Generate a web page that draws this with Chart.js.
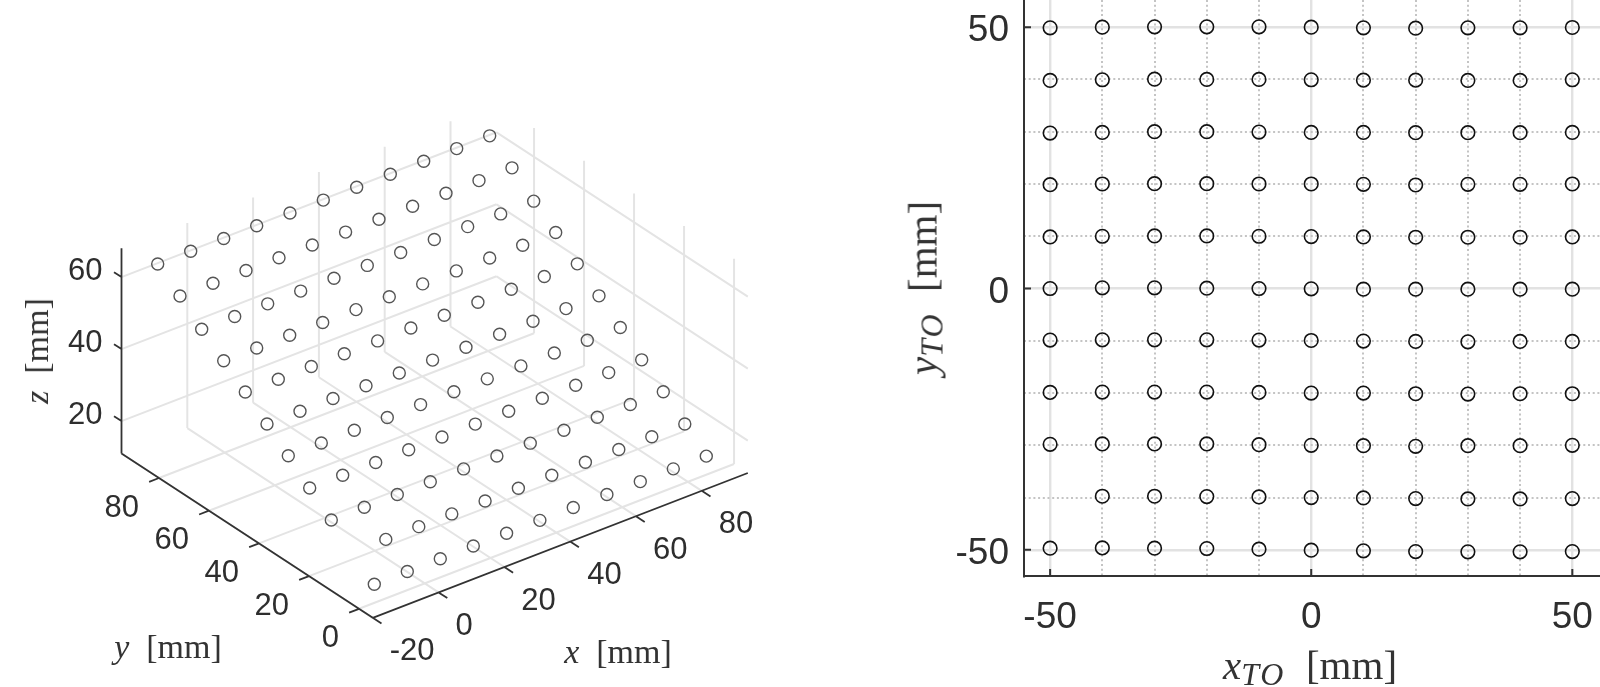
<!DOCTYPE html>
<html>
<head>
<meta charset="utf-8">
<title>Target points</title>
<script src="https://cdn.jsdelivr.net/npm/chart.js@4"></script>
<style>
  html, body { margin: 0; padding: 0; background: #fff; overflow: hidden; }
  #page { position: relative; width: 1600px; height: 687px; }
  canvas { position: absolute; top: 0; }
  #left3d { left: 0; }
  #rightTO { left: 900px; }
  .axisLabel {
    position: absolute; white-space: pre; color: #333; line-height: 1;
    font-family: "Liberation Serif", serif; transform: translate(-50%, -50%);
  }
  .axisLabel sub { font-size: 78%; line-height: 0; font-style: italic; letter-spacing: 2px; position: relative; top: -3px; }
  .small { font-size: 34px; }
  .large { font-size: 41px; }
  .rotated { transform: translate(-50%, -50%) rotate(-90deg); }
</style>
</head>
<body>
<div id="page">
  <canvas id="left3d" width="900" height="687"></canvas>
  <canvas id="rightTO" width="700" height="687"></canvas>
  <div class="axisLabel small rotated" style="left:37px;top:351px"><i>z</i>  [mm]</div>
  <div class="axisLabel small" style="left:168px;top:647px"><i>y</i>  [mm]</div>
  <div class="axisLabel small" style="left:618px;top:652px"><i>x</i>  [mm]</div>
  <div class="axisLabel large" style="left:1310px;top:665px"><i>x</i><sub>TO</sub>  [mm]</div>
  <div class="axisLabel large rotated" style="left:923px;top:288px"><i>y</i><sub>TO</sub>  [mm]</div>
</div>
<script>
// left plot, measured position of the points
const columnX = [-15.35, -5.32, 4.71, 14.74, 24.86, 34.98, 45.13, 55.35, 65.5, 75.53, 85.56];
const rowY = [86.64, 77.72, 69.04, 60.24, 51.6, 42.92, 34.4, 25.84, 17.2, 8.6, 0];
const rowZ = [65.79, 60.95, 55.64, 50.92, 46.15, 41.2, 36.27, 31.18, 26.22, 21.2, 16.17];
const missingColumn = 0;
const missingRow = 9;

const xTicks3d = [-20, 0, 20, 40, 60, 80];
const yTicks3d = [0, 20, 40, 60, 80];
const zTicks3d = [20, 40, 60];
const xLimits3d = [-20, 94];
const yLimits3d = [-5.5, 95];
const zLimits3d = [11, 68];

// right plot, one array of y values per row
const xToColumns = [-50, -40, -30, -20, -10, 0, 10, 20, 30, 40, 50];
const yToRow50 = [49.87, 50, 50.06, 50.06, 50.06, 50, 49.87, 49.81, 49.87, 49.87, 49.94];
const yToRow40 = [39.81, 39.94, 40.06, 40, 40, 39.94, 39.87, 39.87, 39.81, 39.81, 39.94];
const yToRow30 = [29.74, 29.87, 30, 30, 29.94, 29.87, 29.87, 29.81, 29.81, 29.81, 29.87];
const yToRow20 = [19.87, 20, 20.06, 20.06, 20, 20, 19.94, 19.81, 19.94, 19.94, 20];
const yToRow10 = [9.87, 10, 10.06, 10.06, 10, 9.94, 9.87, 9.81, 9.81, 9.81, 9.87];
const yToRow0 = [0, 0.13, 0.13, 0.06, 0, -0.06, -0.13, -0.13, -0.13, -0.13, -0.13];
const yToRowM10 = [-9.87, -9.81, -9.81, -9.81, -9.87, -9.94, -10.06, -10.13, -10.19, -10.13, -10.13];
const yToRowM20 = [-19.87, -19.81, -19.81, -19.81, -19.87, -20, -20, -20.13, -20.19, -20.13, -20.13];
const yToRowM30 = [-29.81, -29.74, -29.74, -29.74, -29.87, -30, -30.06, -30.19, -30.06, -30.06, -30];
const yToRowM40 = [null, -39.74, -39.74, -39.81, -39.87, -40, -40.06, -40.19, -40.26, -40.26, -40.19];
const yToRowM50 = [-49.68, -49.62, -49.68, -49.74, -49.87, -50.06, -50.19, -50.32, -50.38, -50.38, -50.32];
const yToRows = [yToRow50, yToRow40, yToRow30, yToRow20, yToRow10, yToRow0, yToRowM10, yToRowM20, yToRowM30, yToRowM40, yToRowM50];

const toMajorTicks = [-50, 0, 50];
const toMinorTicks = [-40, -30, -20, -10, 10, 20, 30, 40];
const xToLimits = [-55, 55.3];
const yToLimits = [-55, 55.2];

const axisColor = '#333';
const textColor = '#2e2e2e';

// same view as the matlab axes: data (x,y,z) to flat position
const project = (x, y, z) => ({
    x: 424.8 + 3.29 * x - 2.5 * y,
    y: 583.4 - 1.27 * x - 1.635 * y - 3.6 * (z - zLimits3d[0])
});

// list of [from, to] in data units, one line with gaps
const segmentsToLine = (segments) => {
    const out = [];
    segments.forEach((s) => {
        out.push(project(...s[0]), project(...s[1]), { x: null, y: null });
    });
    return out;
};

const [xMin, xMax] = xLimits3d;
const [yMin, yMax] = yLimits3d;
const [zMin, zMax] = zLimits3d;

const gridSegments = [];
xTicks3d.forEach((x) => {
    gridSegments.push([[x, yMin, zMin], [x, yMax, zMin]]);
    if (x !== xMin) gridSegments.push([[x, yMax, zMin], [x, yMax, zMax]]);
});
yTicks3d.forEach((y) => {
    gridSegments.push([[xMin, y, zMin], [xMax, y, zMin]]);
    gridSegments.push([[xMax, y, zMin], [xMax, y, zMax]]);
});
zTicks3d.forEach((z) => {
    gridSegments.push([[xMin, yMax, z], [xMax, yMax, z]]);
    gridSegments.push([[xMax, yMax, z], [xMax, yMin, z]]);
});

const axisSegments = [
    [[xMin, yMax, zMax], [xMin, yMax, zMin]],
    [[xMin, yMax, zMin], [xMin, yMin, zMin]],
    [[xMin, yMin, zMin], [xMax, yMin, zMin]]
];
xTicks3d.forEach((x) => axisSegments.push([[x, yMin, zMin], [x, yMin - 3.5, zMin]]));
yTicks3d.forEach((y) => axisSegments.push([[xMin, y, zMin], [xMin - 3, y, zMin]]));
zTicks3d.forEach((z) => axisSegments.push([[xMin, yMax, z], [xMin, yMax + 3, z]]));

const points3d = [];
rowY.forEach((y, r) => {
    columnX.forEach((x, c) => {
        if (r === missingRow && c === missingColumn) return;
        points3d.push(project(x, y, rowZ[r]));
    });
});

const tickLabels3d = {
    id: 'tickLabels3d',
    afterDatasetsDraw(chart) {
        const { ctx, scales } = chart;
        const put = (label, p, dx, dy, align) => {
            ctx.textAlign = align;
            ctx.fillText(label, scales.x.getPixelForValue(p.x) + dx, scales.y.getPixelForValue(p.y) + dy);
        };
        ctx.save();
        ctx.font = '31px "Liberation Sans", Arial, sans-serif';
        ctx.fillStyle = textColor;
        ctx.textBaseline = 'middle';
        xTicks3d.forEach((x) => put(String(x), project(x, yMin, zMin), 17, 34, 'left'));
        yTicks3d.forEach((y) => put(String(y), project(xMin, y, zMin), -20, 30, 'right'));
        zTicks3d.forEach((z) => put(String(z), project(xMin, yMax, z), -19, -6, 'right'));
        ctx.restore();
    }
};

new Chart(document.getElementById('left3d').getContext('2d'), {
    type: 'scatter',
    data: {
        // first dataset is drawn on top
        datasets: [{
            label: 'points',
            data: points3d,
            pointRadius: 6,
            pointBorderWidth: 1.4,
            pointBorderColor: '#555',
            pointBackgroundColor: 'transparent'
        }, {
            label: 'axes',
            data: segmentsToLine(axisSegments),
            showLine: true,
            spanGaps: false,
            borderColor: axisColor,
            borderWidth: 1.8,
            pointRadius: 0
        }, {
            label: 'grid',
            data: segmentsToLine(gridSegments),
            showLine: true,
            spanGaps: false,
            borderColor: '#e4e4e4',
            borderWidth: 2,
            pointRadius: 0
        }]
    },
    options: {
        responsive: false,
        animation: false,
        layout: { padding: 0, autoPadding: false },
        plugins: { legend: { display: false }, tooltip: { enabled: false } },
        scales: {
            x: { type: 'linear', min: 0, max: 900, display: false },
            y: { type: 'linear', min: 0, max: 687, reverse: true, display: false }
        }
    },
    plugins: [tickLabels3d]
});

const pointsTo = [];
yToRows.forEach((row) => {
    row.forEach((y, c) => {
        if (y !== null) pointsTo.push({ x: xToColumns[c], y: y });
    });
});

const insideTicks = {
    id: 'insideTicks',
    afterDatasetsDraw(chart) {
        const { ctx, scales, chartArea } = chart;
        ctx.save();
        ctx.strokeStyle = axisColor;
        ctx.lineWidth = 2;
        ctx.beginPath();
        toMajorTicks.forEach((v) => {
            const px = scales.x.getPixelForValue(v);
            const py = scales.y.getPixelForValue(v);
            ctx.moveTo(px, chartArea.bottom);
            ctx.lineTo(px, chartArea.bottom - 7);
            ctx.moveTo(chartArea.left, py);
            ctx.lineTo(chartArea.left + 7, py);
        });
        ctx.stroke();
        ctx.restore();
    }
};

const setTicks = (values) => (scale) => {
    scale.ticks = values.map((v) => ({ value: v }));
};
const fixHeight = (h) => (scale) => {
    scale.height = h;
    scale.paddingLeft = 0;
    scale.paddingRight = 0;
};
const fixWidth = (w) => (scale) => {
    scale.width = w;
    scale.paddingTop = 0;
    scale.paddingBottom = 0;
};
const tickFont = { family: '"Liberation Sans", Arial, sans-serif', size: 37 };

const minorScale = (position, limits, fit) => ({
    type: 'linear',
    position: position,
    min: limits[0],
    max: limits[1],
    afterBuildTicks: setTicks(toMinorTicks),
    afterFit: fit,
    ticks: { display: false },
    border: { display: false, dash: [2, 2.7] },
    grid: { color: '#c4c4c4', lineWidth: 2, drawTicks: false }
});

new Chart(document.getElementById('rightTO').getContext('2d'), {
    type: 'scatter',
    data: {
        datasets: [{
            label: 'points',
            data: pointsTo,
            xAxisID: 'x',
            yAxisID: 'y',
            pointRadius: 6.8,
            pointBorderWidth: 1.6,
            pointBorderColor: '#111',
            pointBackgroundColor: 'transparent'
        }]
    },
    options: {
        responsive: false,
        animation: false,
        layout: { padding: 0, autoPadding: false },
        plugins: { legend: { display: false }, tooltip: { enabled: false } },
        scales: {
            x: {
                type: 'linear',
                position: 'bottom',
                min: xToLimits[0],
                max: xToLimits[1],
                afterBuildTicks: setTicks(toMajorTicks),
                afterFit: fixHeight(111),
                ticks: { font: tickFont, color: textColor, padding: 20, maxRotation: 0, autoSkip: false },
                border: { color: axisColor, width: 2 },
                grid: { color: '#e2e2e2', lineWidth: 2.4, drawTicks: false }
            },
            y: {
                type: 'linear',
                position: 'left',
                min: yToLimits[0],
                max: yToLimits[1],
                afterBuildTicks: setTicks(toMajorTicks),
                afterFit: fixWidth(124),
                ticks: { font: tickFont, color: textColor, padding: 15, labelOffset: 4, autoSkip: false },
                border: { color: axisColor, width: 2 },
                grid: { color: '#e2e2e2', lineWidth: 2.4, drawTicks: false }
            },
            xMinor: minorScale('bottom', xToLimits, fixHeight(0)),
            yMinor: minorScale('left', yToLimits, fixWidth(0))
        }
    },
    plugins: [insideTicks]
});
</script>
</body>
</html>
